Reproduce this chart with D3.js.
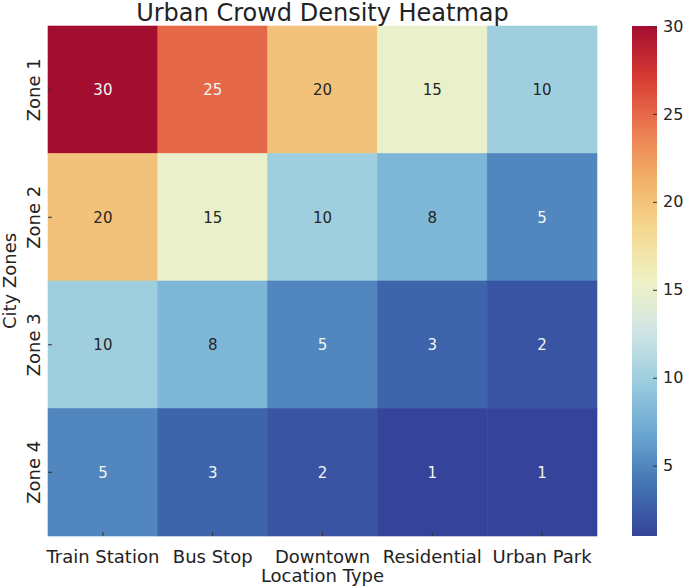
<!DOCTYPE html>
<html lang="en">
<head>
    <meta charset="UTF-8">
    <title>Urban Crowd Density Heatmap</title>
    <script src="https://d3js.org/d3.v7.min.js"></script>
    <style>
        body { margin: 0; background: #fff; }
        text { font-family: "DejaVu Sans", sans-serif; fill: #222; }
    </style>
</head>
<body>
    <svg width="685" height="586"></svg>
    <script>
        const locations = ["Train Station", "Bus Stop", "Downtown", "Residential", "Urban Park"];
        const zones = ["Zone 1", "Zone 2", "Zone 3", "Zone 4"];
        const density = [
            [30, 25, 20, 15, 10],
            [20, 15, 10, 8, 5],
            [10, 8, 5, 3, 2],
            [5, 3, 2, 1, 1]
        ];
        const barTicks = [5, 10, 15, 20, 25, 30];

        const svg = d3.select("svg");
        const x0 = 48, x1 = 597, y0 = 26, y1 = 536;

        // RdYlBu reversed, toned to match the reference picture
        const palette = ["#35449a", "#4273b2", "#6aa6d2", "#9accde", "#cfe5e4", "#eef2c4",
                         "#f5d890", "#f2b068", "#eb7a50", "#d63a32", "#a30d30"];
        const color = d3.scaleSequential(d3.piecewise(d3.interpolateRgb, palette)).domain([1, 30]);

        const x = d3.scaleBand().domain(locations).range([x0, x1]);
        const y = d3.scaleBand().domain(zones).range([y0, y1]);

        const cells = [];
        zones.forEach((z, i) => locations.forEach((l, j) => cells.push({ zone: z, loc: l, v: density[i][j] })));

        function lum(c) {
            const rgb = d3.rgb(c);
            const f = v => { v /= 255; return v <= 0.03928 ? v / 12.92 : Math.pow((v + 0.055) / 1.055, 2.4); };
            return 0.2126 * f(rgb.r) + 0.7152 * f(rgb.g) + 0.0722 * f(rgb.b);
        }

        svg.selectAll(".cell")
            .data(cells)
            .enter().append("rect")
            .attr("x", d => x(d.loc))
            .attr("y", d => y(d.zone))
            .attr("width", x.bandwidth())
            .attr("height", y.bandwidth())
            .attr("fill", d => color(d.v))
            .attr("stroke", d => color(d.v))
            .attr("stroke-width", 0.6);

        svg.selectAll(".annot")
            .data(cells)
            .enter().append("text")
            .attr("x", d => x(d.loc) + x.bandwidth() / 2)
            .attr("y", d => y(d.zone) + y.bandwidth() / 2)
            .attr("dy", "0.35em")
            .attr("text-anchor", "middle")
            .style("font-size", "15px")
            .style("fill", d => lum(color(d.v)) > 0.3 ? "#262626" : "#f4f4f4")
            .text(d => d.v);

        // axes
        const xAxis = svg.append("g")
            .attr("transform", `translate(0,${y1})`)
            .call(d3.axisBottom(x).tickSize(4).tickPadding(10));
        xAxis.select(".domain").remove();
        xAxis.selectAll("line").attr("stroke", "#333").attr("transform", "translate(0,-4)");
        xAxis.selectAll("text").style("font-size", "18px").style("fill", "#222");

        const yAxis = svg.append("g")
            .attr("transform", `translate(${x0},0)`)
            .call(d3.axisLeft(y).tickSize(4).tickPadding(5));
        yAxis.select(".domain").remove();
        yAxis.selectAll("line").attr("stroke", "#333").attr("transform", "translate(4,0)");
        yAxis.selectAll(".tick text")
            .style("font-size", "18px").style("fill", "#222")
            .attr("text-anchor", "middle")
            .attr("transform", "rotate(-90)")
            .attr("x", 0).attr("y", -8).attr("dy", "0");

        svg.append("text")
            .attr("x", (x0 + x1) / 2).attr("y", 582)
            .attr("text-anchor", "middle")
            .style("font-size", "18px")
            .text("Location Type");

        svg.append("text")
            .attr("transform", `translate(16,${(y0 + y1) / 2}) rotate(-90)`)
            .attr("text-anchor", "middle")
            .style("font-size", "18px")
            .text("City Zones");

        svg.append("text")
            .attr("x", (x0 + x1) / 2).attr("y", 21)
            .attr("text-anchor", "middle")
            .style("font-size", "24px")
            .text("Urban Crowd Density Heatmap");

        // colorbar
        const cbX = 632, cbW = 25;
        const cy = d3.scaleLinear().domain([1, 30]).range([y1, y0]);
        const grad = svg.append("defs").append("linearGradient")
            .attr("id", "cb").attr("x1", 0).attr("y1", 1).attr("x2", 0).attr("y2", 0);
        d3.range(0, 1.0001, 0.05).forEach(t => {
            grad.append("stop").attr("offset", t).attr("stop-color", color(1 + t * 29));
        });
        svg.append("rect")
            .attr("x", cbX).attr("y", y0)
            .attr("width", cbW).attr("height", y1 - y0)
            .attr("fill", "url(#cb)");

        const cAxis = svg.append("g")
            .attr("transform", `translate(${cbX + cbW},0)`)
            .call(d3.axisRight(cy).tickValues(barTicks).tickSize(4).tickPadding(2));
        cAxis.select(".domain").remove();
        cAxis.selectAll("line").attr("stroke", "#333").attr("transform", "translate(-4,0)");
        cAxis.selectAll("text").style("font-size", "16px").style("fill", "#222");
    </script>
</body>
</html>
